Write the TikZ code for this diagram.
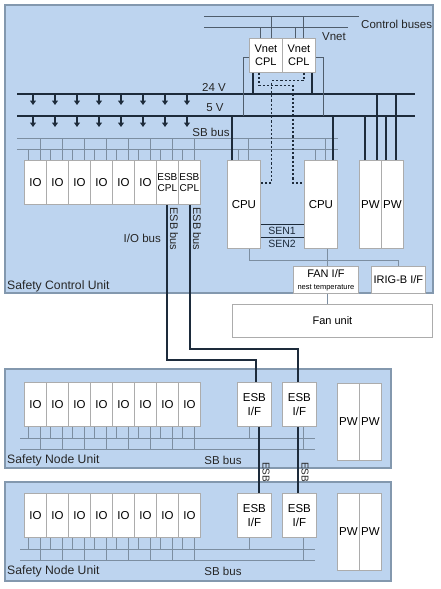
\documentclass[tikz,border=0pt]{standalone}
\usepackage{fontspec}
\setmainfont{Liberation Sans}
\definecolor{unitfill}{HTML}{BDD4EF}
\definecolor{unitedge}{HTML}{8398AE}
\definecolor{busline}{HTML}{1D2B3B}
\definecolor{thinline}{HTML}{4F5D6C}
\definecolor{sbline}{HTML}{7C8EA1}
\usetikzlibrary{arrows.meta,calc,positioning}
\tikzset{
 unit/.style={draw=unitedge,fill=unitfill,line width=1.2pt},
 card/.style={draw=gray!65,fill=white,anchor=north west,inner sep=0pt,align=center,line width=0.8pt},
 pwr/.style={draw=busline,line width=2.2pt},
 sig/.style={draw=thinline,line width=0.8pt},
 sbl/.style={draw=sbline,line width=0.8pt},
 arr/.style={draw=busline,line width=1.6pt,-{Triangle[width=6pt,length=4.5pt]}},
 dotl/.style={draw=busline,line width=1.3pt,dash pattern=on 2.2pt off 2pt},
 lbl/.style={inner sep=0pt,text=black!85},
 unitlbl/.style={lbl,anchor=west,font=\fontsize{12.2}{14}\selectfont},
}
\begin{document}
\begin{tikzpicture}[x=1pt,y=-1pt,font=\fontsize{11.5}{13.5}\selectfont]
\fill[white] (0,0) rectangle (440,589);
\useasboundingbox (0,0) rectangle (440,589);
\draw[unit] (5,5) rectangle (433,293);
\draw[unit] (5,369) rectangle (391,468);
\draw[unit] (5,482) rectangle (391,581);

\coordinate (cbL) at (204,16); \coordinate (cbR) at (359,16);
\coordinate (vnL) at (204,27); \coordinate (vnR) at (348,27);
\coordinate (v24L) at (17,94); \coordinate (v24R) at (415,94);
\coordinate (v5L) at (17,116); \coordinate (v5R) at (415,116);
\coordinate (sbuL) at (17,138); \coordinate (sbuR) at (338,138);
\coordinate (sblL) at (17,149); \coordinate (sblR) at (338,149);
\draw[sig] (cbL) -- (cbR) (vnL) -- (vnR);
\draw[pwr] (v24L) -- (v24R) (v5L) -- (v5R);
\draw[sbl] (sbuL) -- (sbuR) (sblL) -- (sblR);
\node[lbl,anchor=west] (cbt) at (361,24) {Control buses};
\node[lbl] (vnt) at (334,37) {Vnet};
\node[lbl] (v24t) at (214,87) {24 V};
\node[lbl] (v5t) at (215,108) {5 V};
\node[lbl] (sbt) at (211,132) {SB bus};
\foreach \i in {0,...,7}{
\draw[arr] ($(v24L)+(16+22*\i,0)$) -- ++(0,11);
\draw[arr] ($(v5L)+(16+22*\i,0)$) -- ++(0,11);}

\node[card,minimum width=33pt,minimum height=34pt,font=\fontsize{11}{12.5}\selectfont] (cpla) at (249,38) {Vnet\\CPL};
\node[card,minimum width=33pt,minimum height=34pt,font=\fontsize{11}{12.5}\selectfont] (cplb) at (282,38) {Vnet\\CPL};
\foreach \n/\a/\b in {cpla/11/22,cplb/13/21}{
\draw[sig] ($(\n.north west)+(\a,0)$) coordinate (t) -- (t |- vnL);
\draw[sig] ($(\n.north west)+(\b,0)$) coordinate (t) -- (t |- cbL);}
\draw[pwr] ($(cpla.south west)+(4,0)$) coordinate (t) -- (t |- v24L);
\draw[pwr] ($(cplb.south west)+(30,0)$) coordinate (t) -- (t |- v24L);
\draw[sig] ($(cpla.north west)+(0,19)$) -- ++(-6,0) coordinate (t) -- (t |- v5L);
\draw[sig] ($(cplb.north east)+(0,19)$) -- ++(8,0) coordinate (t) -- (t |- v5L);

\foreach \i in {1,...,6}
\node[card,minimum width=22pt,minimum height=44pt] (s\i) at (2+22*\i,160) {IO};
\foreach \i/\x in {7/156,8/178}
\node[card,minimum width=22pt,minimum height=44pt,font=\fontsize{10}{11.5}\selectfont] (s\i) at (\x,160) {ESB\\CPL};
\foreach \i in {1,...,8}{
\draw[sbl] ($(s\i.north west)+(16,0)$) coordinate (t) -- (t |- sbuL);
\draw[sbl] ($(s\i.north west)+(4,0)$) coordinate (t) -- (t |- sblL);}

\node[card,minimum width=33pt,minimum height=88pt] (cpu1) at (227,160) {CPU};
\node[card,minimum width=33pt,minimum height=88pt] (cpu2) at (304,160) {CPU};
\node[card,minimum width=22pt,minimum height=88pt] (pw1) at (359,160) {PW};
\node[card,minimum width=22pt,minimum height=88pt] (pw2) at (381,160) {PW};
\foreach \n in {cpu1,cpu2}{
\draw[sbl] ($(\n.north west)+(11,0)$) coordinate (t) -- (t |- sblL);
\draw[sbl] ($(\n.north west)+(21,0)$) coordinate (t) -- (t |- sbuL);}
\draw[pwr] ($(cpu1.north west)+(5,0)$) coordinate (t) -- (t |- v5L);
\draw[pwr] ($(cpu2.north west)+(29,0)$) coordinate (t) -- (t |- v5L);
\foreach \n/\a/\b in {pw1/6/18,pw2/5/15}{
\draw[pwr] ($(\n.north west)+(\a,0)$) coordinate (t) -- (t |- v5L);
\draw[pwr] ($(\n.north west)+(\b,0)$) coordinate (t) -- (t |- v24L);}
\draw[dotl] ($(cpla.south west)+(10,0)$) -- ++(0,13) -| ($(cpu2.north west)+(-11,23)$) -- ($(cpu2.north west)+(0,23)$);
\draw[dotl] ($(cplb.south west)+(22,0)$) -- ++(0,8) -| ($(cpu1.north east)+(11,23)$) -- ($(cpu1.north east)+(0,23)$);
\draw[busline,line width=1pt] ($(cpu1.north east)+(0,64)$) -- ($(cpu2.north west)+(0,64)$)
 ($(cpu1.north east)+(0,77)$) -- ($(cpu2.north west)+(0,77)$);
\node[lbl,font=\fontsize{10.5}{12}\selectfont,text=busline] (sen1) at (282,230.5) {SEN1};
\node[lbl,font=\fontsize{10.5}{12}\selectfont,text=busline] (sen2) at (282,243.5) {SEN2};

\node[card,minimum width=65pt,minimum height=27pt,font=\fontsize{11}{11}\selectfont] (fanif) at (293,266) {FAN I/F\\[1pt]{\fontsize{7.5}{8}\selectfont nest temperature}};
\node[card,minimum width=54pt,minimum height=27pt,font=\fontsize{11}{12}\selectfont] (irig) at (371,266) {IRIG-B I/F};
\node[card,minimum width=200pt,minimum height=33pt,font=\fontsize{11}{12}\selectfont] (fanu) at (232,304) {Fan unit};
\draw[sbl] ($(cpu1.south west)+(22,0)$) |- ($(irig.north)+(0,-6)$) -- (irig.north);
\draw[sbl] ($(cpu2.south west)+(23,0)$) coordinate (t) -- (t |- fanif.north) (t |- fanif.south) -- (t |- fanu.north);
\node[lbl,anchor=east] (iobus) at (161,238) {I/O bus};
\node[lbl,rotate=-90,font=\fontsize{11}{12}\selectfont] (esbb1) at (174,229) {ESB bus};
\node[lbl,rotate=-90,font=\fontsize{11}{12}\selectfont] (esbb2) at (197,229) {ESB bus};
\node[unitlbl] (scut) at (7,286) {Safety Control Unit};

\foreach \u/\t/\p in {a/382/383,b/493/493}{
\coordinate (sbu\u) at (20,\t+56); \coordinate (sbl\u) at (20,\t+67);
\draw[sbl] (sbu\u) -- ++(295,0) (sbl\u) -- ++(295,0);
\foreach \i in {1,...,8}{
\node[card,minimum width=22pt,minimum height=44pt] (\u\i) at (2+22*\i,\t) {IO};
\draw[sbl] ($(\u\i.south west)+(4,0)$) coordinate (t) -- (t |- sbu\u);
\draw[sbl] ($(\u\i.south west)+(16,0)$) coordinate (t) -- (t |- sbl\u);}
\node[card,minimum width=34pt,minimum height=44pt] (e1\u) at (237,\t) {ESB\\I/F};
\node[card,minimum width=34pt,minimum height=44pt] (e2\u) at (282,\t) {ESB\\I/F};
\draw[sbl] ($(e1\u.south west)+(12,0)$) coordinate (t) -- (t |- sbu\u);
\draw[sbl] ($(e2\u.south west)+(21,0)$) coordinate (t) -- (t |- sbl\u);
\node[card,minimum width=22pt,minimum height=77pt] (pa\u) at (337,\p) {PW};
\node[card,minimum width=22pt,minimum height=77pt] (pb\u) at (359,\p) {PW};
\node[lbl] (sbt\u) at (223,\t+78) {SB bus};
\node[unitlbl] (snu\u) at (7,\t+78) {Safety Node Unit};}

\draw[pwr] ($(s7.south west)+(11,0)$) |- ($(e1a.north west)+(19,-22)$) -- ($(e1a.north west)+(19,0)$);
\draw[pwr] ($(s8.south west)+(12,0)$) |- ($(e2a.north west)+(16,-33)$) -- ($(e2a.north west)+(16,0)$);
\draw[pwr] ($(e1a.south west)+(22,0)$) coordinate (t) -- (t |- e1b.north);
\draw[pwr] ($(e2a.south west)+(16,0)$) coordinate (t) -- (t |- e2b.north);
\node[lbl,rotate=-90,font=\fontsize{10}{11}\selectfont] (esbl1) at (266,472) {ESB};
\node[lbl,rotate=-90,font=\fontsize{10}{11}\selectfont] (esbl2) at (305,472) {ESB};
\end{tikzpicture}
\end{document}
